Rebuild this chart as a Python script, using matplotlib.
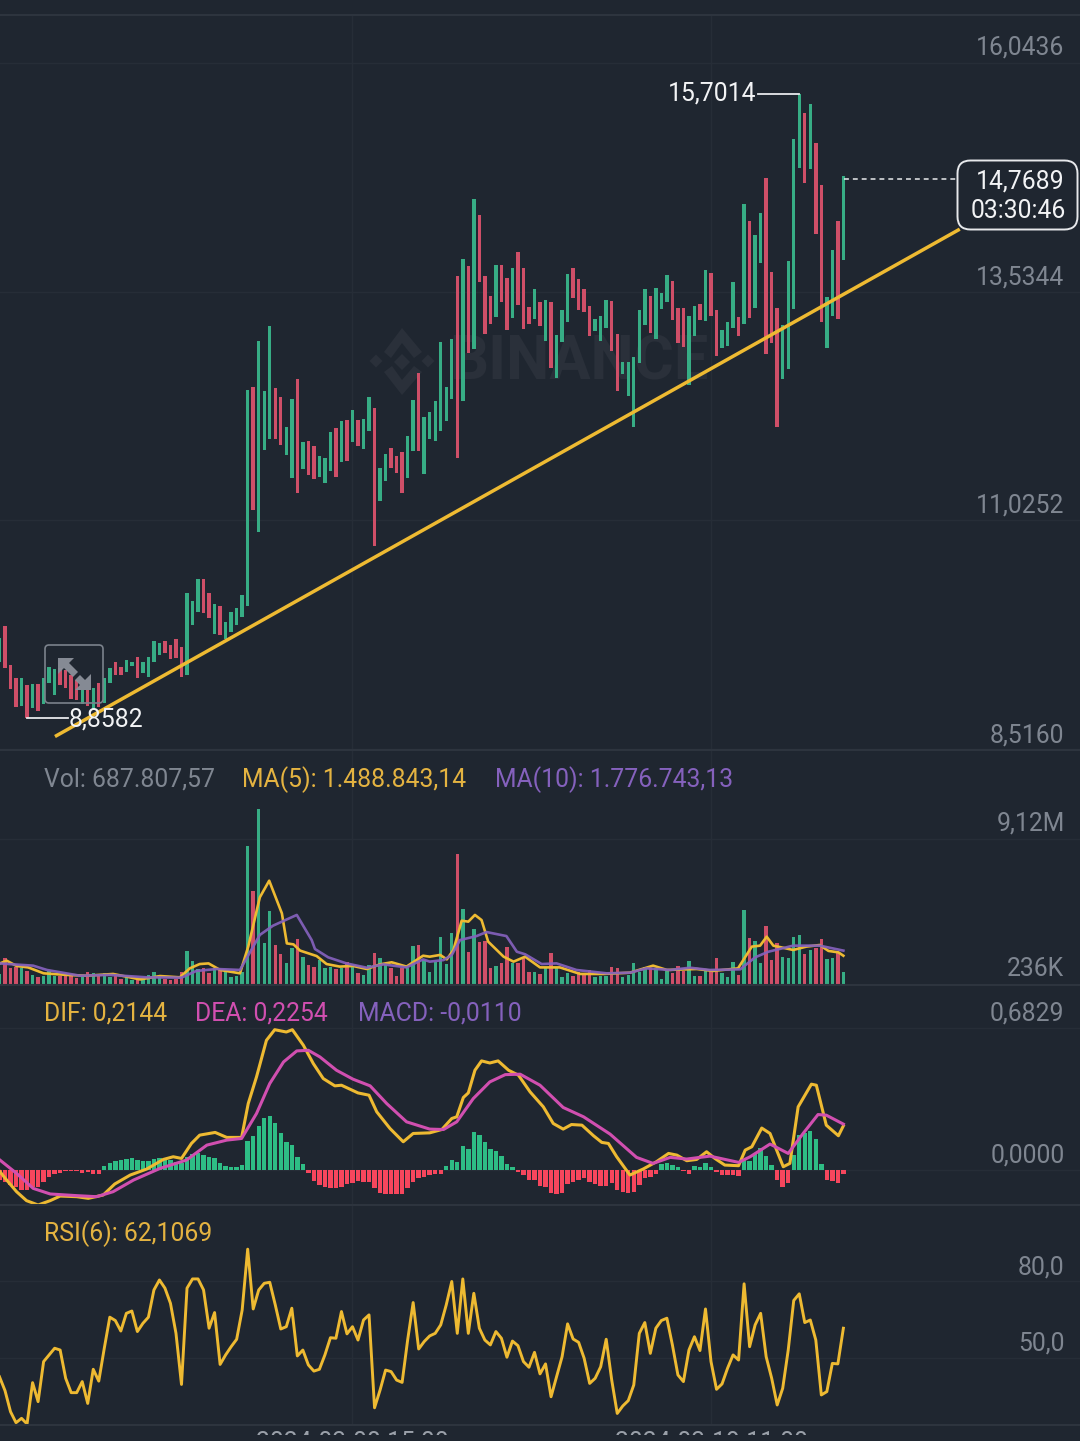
import numpy as np
import matplotlib
matplotlib.use("Agg")
import matplotlib.pyplot as plt
from matplotlib.patches import FancyBboxPatch, Polygon, Rectangle

plt.rcParams['font.family'] = ['Roboto', 'DejaVu Sans']

# ---------- data ----------
directions = ("GRRRGRGRGG" "GRRRRGRGRG" "GRRGGRGGGG" "RRRRGGGRRG" "RGGGGGRGGG"
              "RRGGRGRRGG" "GRGRGRGGRG" "GRRRGGRGGG" "GGGRGRGRRR" "GRRGRRRGRG"
              "RGGGRRRRGG" "GRRGGGGGRG" "GGRRRGGRGR" "RGGGRGRGGR" "RRGGGGRGRR" "GGRG")

highs = [9.73,9.87,9.44,9.29,9.29,9.22,9.23,9.23,9.29,9.42,
         9.39,9.40,9.38,9.33,9.27,9.16,9.16,9.19,9.24,9.29,
         9.40,9.47,9.42,9.49,9.47,9.52,9.47,9.53,9.70,9.68,
         9.70,9.66,9.72,9.63,10.23,10.14,10.38,10.38,10.23,10.11,
         10.08,9.91,10.02,10.06,10.21,12.46,12.49,12.99,12.44,13.16,
         12.48,12.38,12.05,12.36,12.58,11.88,11.90,11.84,11.73,11.71,
         11.99,12.04,12.12,12.13,12.24,12.13,12.14,12.38,12.26,11.60,
         11.75,11.82,11.73,11.77,11.95,12.35,12.64,12.16,12.21,12.33,
         12.98,12.49,13.01,13.71,13.89,13.82,14.55,14.38,13.71,13.49,
         13.83,13.83,13.68,13.79,13.97,13.79,13.37,13.56,13.42,13.44,
         13.42,13.06,13.33,13.73,13.79,13.67,13.56,13.38,13.23,13.27,
         13.44,13.43,13.07,12.76,12.76,12.82,13.33,13.56,13.49,13.57,
         13.52,13.72,13.65,13.35,13.35,13.27,13.38,13.40,13.77,13.74,
         13.33,13.11,13.20,13.64,13.26,14.50,14.31,14.16,14.40,14.78,
         13.75,13.35,13.17,13.87,15.21,15.70,15.50,15.59,15.17,14.71,
         13.48,13.99,14.31,14.80]
lows = [9.47,9.40,9.17,8.98,8.99,8.86,8.97,8.93,9.01,9.24,
        9.11,9.22,9.19,9.06,9.05,9.01,8.99,8.94,8.98,9.02,
        9.24,9.33,9.33,9.36,9.43,9.30,9.35,9.31,9.47,9.55,
        9.57,9.50,9.51,9.31,9.33,9.88,10.02,10.01,9.95,9.78,
        9.77,9.72,9.80,9.88,9.96,10.09,11.14,10.90,11.80,11.92,
        11.92,11.85,11.74,11.49,11.33,11.59,11.52,11.48,11.50,11.44,
        11.57,11.50,11.66,11.68,11.89,11.84,11.81,12.01,10.74,11.24,
        11.46,11.60,11.54,11.32,11.49,11.79,11.79,11.53,11.92,11.90,
        12.00,12.12,12.36,11.71,12.33,12.86,12.90,13.64,13.07,13.18,
        13.26,13.42,13.11,13.25,13.39,13.12,13.18,13.23,13.16,12.99,
        12.70,12.59,12.98,13.20,13.46,13.33,13.31,13.05,13.10,12.99,
        13.14,12.88,12.44,12.63,12.39,12.05,12.75,13.17,13.08,13.01,
        13.34,13.42,13.22,12.97,12.93,12.51,13.05,13.22,13.21,13.27,
        12.83,12.92,12.94,13.14,13.05,13.18,13.24,13.35,13.85,12.85,
        12.97,12.05,12.58,12.69,13.34,14.89,14.73,14.88,14.17,13.20,
        12.92,13.27,13.23,13.88]

volume = [.69,1.67,1.04,1.15,1.04,.90,.63,.48,.58,.90,
          .58,.58,.58,.58,.42,.52,.79,.77,.58,.73,
          .52,.58,.38,.48,.31,.38,.38,.63,.79,.52,
          .35,.31,.38,.79,2.13,1.48,1.00,1.04,.77,1.04,
          1.00,.79,.48,.58,.79,8.69,5.88,10.98,2.60,4.65,
          2.48,1.92,1.35,2.33,2.90,1.73,1.25,1.15,1.56,1.08,
          1.15,.98,1.08,1.42,1.15,.73,.63,1.25,1.98,1.67,
          1.25,1.04,.58,1.04,1.04,2.46,2.52,1.54,.79,1.42,
          3.02,1.29,3.27,8.19,4.75,2.08,3.50,2.67,2.77,1.04,
          1.19,1.40,2.35,1.40,1.40,1.77,.83,.79,.67,1.04,
          2.02,1.15,.48,.73,.58,.83,.73,.94,.48,.58,
          .56,1.10,1.04,.48,.63,1.35,.83,1.15,1.04,1.08,
          .38,.94,.77,1.21,.90,1.50,.56,.56,.88,.94,
          1.67,.77,.52,1.42,.63,4.69,2.92,2.75,1.40,3.71,
          1.56,2.60,1.77,1.67,2.98,3.13,1.92,2.19,2.29,2.85,
          1.63,1.71,1.98,.83]

ma5_idx = [.09,1.3,3.1,5.2,8.0,12.2,15.8,20.6,25.5,29.1,32.7,34.5,36.3,37.9,40.0,43.6,45.1,47.2,48.9,51.2,52.1,53.3,54.5,57.5,59.3,61.7,64.1,66.6,69.0,71.1,73.8,76.8,78.0,
           79.9,81.1,82.3,83.8,85.0,86.2,87.4,88.6,91.4,93.2,95.3,98.0,101.6,105.3,109.5,114.3,118.5,121.0,126.4,129.4,133.9,136.4,137.9,139.1,140.3,143.9,146.3,148.7,150.3,152.1,153]
ma5_val = [1.35,1.52,1.19,1.10,.73,.63,.58,.69,.35,.56,.48,1.04,1.31,1.35,.94,.73,2.40,5.48,6.52,4.48,2.60,2.54,2.15,1.81,1.31,1.15,1.19,1.00,1.29,1.42,1.15,1.83,1.77,
           1.88,1.60,2.19,4.02,3.96,4.38,4.06,2.71,1.77,1.46,1.77,1.10,1.10,.69,.69,.77,1.21,.94,1.00,.88,1.04,2.40,2.46,3.02,2.46,2.19,2.40,2.50,2.13,2.04,1.83]
ma10_idx = [.09,2.5,6.1,8.6,14.6,20.0,26.7,33.0,35.7,39.4,43.6,47.2,49.6,53.9,56.6,57.2,59.6,62.9,66.6,69.6,73.8,76.8,78.0,
            80.5,82.0,83.5,86.5,88.3,91.9,93.8,95.3,98.3,101.0,104.6,110.1,114.3,117.3,121.6,125.2,128.8,134.3,137.0,139.4,143.9,148.7,153]
ma10_val = [1.35,1.29,1.21,.94,.58,.63,.48,.46,.88,1.00,.94,3.13,3.71,4.38,2.81,2.25,1.73,1.35,1.08,1.29,1.10,1.60,1.46,
            1.56,1.88,2.81,3.06,3.31,3.06,2.08,1.92,1.31,1.35,.94,.73,.77,1.04,.94,1.08,.94,.98,1.73,2.08,2.46,2.46,2.15]

macd_hist = [-.048,-.059,-.072,-.08,-.096,-.096,-.083,-.08,-.056,-.032,
             -.019,-.016,-.006,-.005,-.005,-.016,-.010,-.019,-.019,.021,
             .035,.045,.048,.053,.056,.048,.046,.042,.054,.059,
             .051,.048,.037,.032,.064,.077,.083,.072,.061,.056,
             .035,.019,.014,.014,.024,.141,.163,.211,.248,.259,
             .227,.176,.136,.12,.064,.029,-.016,-.051,-.072,-.08,
             -.088,-.088,-.08,-.069,-.064,-.051,-.056,-.056,-.088,-.109,
             -.115,-.115,-.115,-.115,-.088,-.056,-.04,-.032,-.024,-.019,
             -.019,.021,.048,.037,.115,.099,.181,.168,.136,.101,
             .091,.067,.029,.014,-.011,-.024,-.048,-.048,-.075,-.08,
             -.112,-.115,-.109,-.069,-.056,-.048,-.04,-.059,-.067,-.075,
             -.075,-.061,-.096,-.104,-.109,-.104,-.072,-.04,-.032,-.019,
             .029,.035,.022,.013,-.006,-.019,.019,.013,.032,.013,
             -.008,-.026,-.026,-.026,-.027,.054,.045,.08,.104,.069,
             .024,-.048,-.08,-.061,.072,.168,.179,.187,.147,.029,
             -.048,-.051,-.061,-.021]

dif_idx = [.09,1.3,3.1,4.9,7.0,9.2,11,14,16.1,18.8,20.9,23.7,26.7,29.7,31.5,33,34.8,36.3,39.1,41.2,43.9,45.1,46.6,48.4,49.9,52,53.1,55.1,56.9,58.7,60.8,62,65,67,68.4,70.8,73.2,75,78,
           80.2,82,82.9,84.1,85,86.2,87.4,88.9,90.4,92.3,94.1,96.2,98.6,100.4,102.2,103.7,105.6,107.7,109.2,110.4,111.9,114.3,116.7,119.1,121.3,122.8,124.6,126.4,128.2,129.7,131.5,134,135.2,136.4,138.2,139.7,142.1,143.3,144.8,147.2,148.1,149.9,152.1,153]
dif_val = [-.008,-.048,-.104,-.147,-.168,-.147,-.125,-.128,-.136,-.12,-.067,-.024,.005,.051,.064,.056,.128,.168,.181,.157,.157,.32,.448,.624,.675,.664,.675,.6,.512,.44,.405,.408,.371,.36,.28,.2,.136,.176,.179,
           .195,.248,.256,.349,.371,.48,.525,.515,.525,.48,.456,.376,.304,.224,.197,.219,.216,.165,.133,.128,.064,-.024,.005,.04,.08,.072,.045,.051,.088,.056,.024,.021,.096,.112,.202,.176,.016,.032,.304,.413,.408,.216,.165,.213]
dea_idx = [.09,3.1,6.1,9.2,14,17.6,20.6,24.3,29.1,33.9,37.6,41.2,43.9,46.6,49,51.5,53.9,56,58.1,61.1,64.1,67.2,70.2,73.8,78,
           80.5,82.9,85.9,88.9,91.7,94.4,98,102.2,105.9,110.7,115.5,118.5,121.6,124.6,128.8,134,136.1,139.7,143,145.7,148.4,149.9,153]
dea_val = [.048,-.016,-.088,-.115,-.123,-.128,-.104,-.048,.008,.048,.12,.144,.152,.272,.416,.52,.573,.576,.544,.48,.437,.405,.32,.232,.197,
           .195,.232,.344,.424,.459,.461,.408,.301,.256,.173,.061,.032,.061,.053,.067,.037,.064,.125,.08,.176,.267,.264,.221]

rsi = [42.7,37.3,29.1,24.8,26.5,24.3,40.4,33.0,48.6,51.2,53.8,53.1,42.1,36.5,36.5,40.8,32.3,45.6,41.0,53.8,
       65.9,64.6,60.5,67.4,68.3,60.3,63.5,65.9,76.5,80.4,77.2,71.3,59.6,39.7,77.2,80.8,80.8,76.5,61.6,67.7,
       47.5,51.2,54.4,57.3,68.7,92.4,69.1,76.5,79.1,79.5,70.7,61.3,62.2,69.4,50.8,53.1,47.3,44.9,45.6,51.2,
       57.9,57.7,68.1,59.4,62.2,57.0,64.8,66.8,30.6,37.5,45.3,44.7,41.4,40.5,57.0,71.6,53.5,56.4,58.6,
       59.6,62.9,70.7,79.8,59.6,80.8,59.6,75.2,61.6,57.0,55.1,60.3,57.7,50.3,56.6,54.8,48.6,46.4,52.2,43.8,47.7,
       34.9,42.7,50.5,63.3,57.4,56.1,49.9,40.1,42.1,46.6,57.3,41.4,28.4,31.3,33.4,39.5,59.6,63.8,51.8,61.6,
       64.6,65.5,55.1,43.4,40.8,53.1,58.3,52.9,69.1,48.6,37.8,39.9,46.0,51.2,49.2,78.9,54.4,62.9,67.4,50.5,
       42.1,31.7,38.2,53.1,72.4,75.0,63.8,64.8,57.0,35.6,36.9,47.9,47.7,61.6]

trend_idx = [10.06, 174.1]
trend_val = [8.653, 14.22]

price_ticks = [16.0436, 13.5344, 11.0252, 8.5160]
price_labels = ["16,0436", "13,5344", "11,0252", "8,5160"]
vol_ticks = [9.12]
macd_ticks = [0.6829, 0.0]
rsi_ticks = [80.0, 50.0]
grid_idx = [63.9, 129.0]
high_pt, low_pt, last_price = 15.7014, 8.8582, 14.7689

# ---------- styling ----------
W, H = 1080, 1441
BG = "#1f2630"
GRID = "#262d37"
SEP = "#2d343e"
GREY = "#7f8691"
UP = "#37ad85"
DOWN = "#cf4f68"
UP_H = "#2ebd85"
DOWN_H = "#f6465d"
YEL = "#eeba32"
PINK = "#d14fb0"
PURP = "#8561bd"

fig = plt.figure(figsize=(W / 100, H / 100), dpi=100, facecolor=BG)
xlim = (0.094, 195.9)


def panel(top, bottom, ylim, yticks):
    ax = fig.add_axes([0, 1 - bottom / H, 1, (bottom - top) / H], facecolor=BG)
    ax.set_xlim(xlim)
    ax.set_ylim(ylim)
    ax.set_xticks(grid_idx)
    ax.set_yticks(yticks)
    ax.tick_params(length=0, labelbottom=False, labelleft=False)
    ax.grid(True, color=GRID, lw=1.0)
    ax.set_axisbelow(True)
    for s in ax.spines.values():
        s.set_visible(False)
    return ax


n = len(highs)
idx = np.arange(n)
up = np.array([c == "G" for c in directions])
colors = [UP if u else DOWN for u in up]

# price panel
ax_p = panel(15, 750, (8.505, 16.57), price_ticks)
h, l = np.array(highs), np.array(lows)
ax_p.bar(idx, h - l, bottom=l, width=0.62, color=colors, linewidth=0, zorder=3)
ax_p.plot(trend_idx, trend_val, color=YEL, lw=2.5, zorder=4, solid_capstyle="butt")
ax_p.plot([idx[-1] + 0.2, 174.0], [last_price, last_price], color="#e8eaed", lw=1.1,
          dashes=(3.2, 2.6), zorder=4)
ax_p.plot([145, 137.5], [high_pt, high_pt], color="#e8eaed", lw=1.3, zorder=5)
ax_p.plot([5, 12.5], [low_pt, low_pt], color="#e8eaed", lw=1.3, zorder=5)

# volume panel
ax_v = panel(750, 985, (0, 14.69), vol_ticks)
ax_v.bar(idx, volume, width=0.62, color=colors, linewidth=0, zorder=3)
ax_v.plot(ma5_idx, ma5_val, color=YEL, lw=1.9, zorder=4, solid_joinstyle="round")
ax_v.plot(ma10_idx, ma10_val, color=PURP, lw=1.9, zorder=5, alpha=0.92, solid_joinstyle="round")

# MACD panel
ax_m = panel(985, 1205, (-0.168, 0.89), macd_ticks)
hist = np.array(macd_hist)
ax_m.bar(idx, hist, width=0.8, color=[UP_H if v >= 0 else DOWN_H for v in hist], linewidth=0, zorder=3)
ax_m.plot(dif_idx, dif_val, color=YEL, lw=2.2, zorder=4, solid_joinstyle="round")
ax_m.plot(dea_idx, dea_val, color=PINK, lw=2.2, zorder=5, solid_joinstyle="round")

# RSI panel
ax_r = panel(1205, 1425, (23.9, 109.6), rsi_ticks)
ax_r.plot(np.arange(len(rsi)), rsi, color=YEL, lw=2.1, zorder=4, solid_joinstyle="round")

# overlay for labels and furniture, in image pixels
ov = fig.add_axes([0, 0, 1, 1], facecolor="none")
ov.set_xlim(0, W)
ov.set_ylim(H, 0)
ov.axis("off")

for y in (15, 750, 985, 1205, 1425):
    ov.plot([0, W], [y, y], color=SEP, lw=1.5, zorder=1)

FS = 17.8
for lab, y in zip(price_labels, (48, 277, 506, 735)):
    ov.text(1064.5, y, lab, color=GREY, fontsize=FS, ha="right", va="center")
ov.text(1064.5, 824, "9,12M", color=GREY, fontsize=FS, ha="right", va="center")
ov.text(1064.5, 969, "236K", color=GREY, fontsize=FS, ha="right", va="center")
ov.text(1064.5, 1014, "0,6829", color=GREY, fontsize=FS, ha="right", va="center")
ov.text(1064.5, 1155, "0,0000", color=GREY, fontsize=FS, ha="right", va="center")
ov.text(1064.5, 1267, "80,0", color=GREY, fontsize=FS, ha="right", va="center")
ov.text(1064.5, 1344, "50,0", color=GREY, fontsize=FS, ha="right", va="center")

for x, t, c, y in [(44, "Vol: 687.807,57", GREY, 780),
                   (242, "MA(5): 1.488.843,14", "#e4b341", 780),
                   (495, "MA(10): 1.776.743,13", PURP, 780),
                   (44, "DIF: 0,2144", "#e4b341", 1014),
                   (195, "DEA: 0,2254", PINK, 1014),
                   (358, "MACD: -0,0110", PURP, 1014),
                   (44, "RSI(6): 62,1069", "#e4b341", 1234)]:
    ov.text(x, y, t, color=c, fontsize=FS, ha="left", va="center")

ov.text(756, 94, "15,7014", color="#f2f3f5", fontsize=FS, ha="right", va="center")
ov.text(69, 719, "8,8582", color="#f2f3f5", fontsize=FS, ha="left", va="center")

box = FancyBboxPatch((957.5, 160.5), 120, 69, boxstyle="round,pad=0,rounding_size=13",
                     fc=BG, ec="#e6e8eb", lw=1.4, zorder=6)
ov.add_patch(box)
ov.text(1064, 181, "14,7689", color="#f2f3f5", fontsize=FS, ha="right", va="center", zorder=7)
ov.text(1066, 211, "03:30:46", color="#f2f3f5", fontsize=FS, ha="right", va="center", zorder=7)

# date labels: only their top edge shows above the strip at the bottom of the picture
ov.text(352, 1431, "2024-03-08 15:00", color="#9aa0a9", fontsize=FS, ha="center", va="top", zorder=2)
ov.text(711, 1431, "2024-03-19 11:00", color="#9aa0a9", fontsize=FS, ha="center", va="top", zorder=2)
ov.add_patch(Rectangle((0, 1435), W, 6, fc=BG, ec="none", zorder=3))

# faint BINANCE watermark, under the bars of the price panel
WM = "#2a303a"
ax_p.text(449, 362, "BINANCE", color=WM, fontsize=44, fontweight="bold", ha="left", va="center",
          transform=ov.transData, zorder=1)
for cx, cy, r in [(402, 362, 8), (376, 361, 6.5), (428, 361, 6.5)]:
    ax_p.add_patch(Polygon([(cx - r, cy), (cx, cy - r), (cx + r, cy), (cx, cy + r)], fc=WM, ec="none",
                           transform=ov.transData, zorder=1))
ax_p.add_patch(Polygon([(384, 352), (402, 328), (422, 352), (414, 358), (402, 343), (391, 358)], fc=WM,
                       ec="none", transform=ov.transData, zorder=1))
ax_p.add_patch(Polygon([(384, 372), (392, 366), (402, 380), (414, 366), (422, 372), (402, 395)], fc=WM,
                       ec="none", transform=ov.transData, zorder=1))

# chart tool icon
ov.add_patch(FancyBboxPatch((45, 645), 58, 58, boxstyle="round,pad=0,rounding_size=4",
                            fc="none", ec="#7b828c", lw=1.2, zorder=6))
ARW = "#8b909a"
ov.add_patch(Polygon([(58, 658), (74, 658), (69, 663), (78, 672), (73, 677), (64, 668), (58, 674)],
                     fc=ARW, ec="none", alpha=0.95, zorder=6))
ov.add_patch(Polygon([(91, 690), (75, 690), (80, 685), (75, 680), (80, 675), (85, 680), (91, 674)],
                     fc=ARW, ec="none", alpha=0.95, zorder=6))

fig.savefig("out.png", dpi=100, facecolor=BG)
